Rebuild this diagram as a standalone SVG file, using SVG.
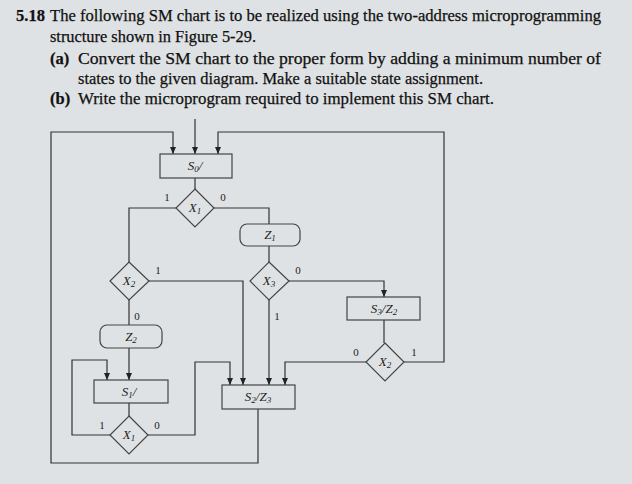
<svg xmlns="http://www.w3.org/2000/svg" width="632" height="484" viewBox="0 0 632 484">
<defs>
<marker id="ah" markerWidth="8" markerHeight="8" refX="7" refY="4" orient="auto" markerUnits="userSpaceOnUse"><path d="M0,1 L7,4 L0,7 Z" fill="#222"/></marker>
<style>
.t{font-family:"Liberation Serif",serif;font-size:16.5px;fill:#111;stroke:#111;stroke-width:0.25}
.b{font-weight:bold}
.box{fill:none;stroke:#444;stroke-width:1.2}
.ln{fill:none;stroke:#333;stroke-width:1.2}
.a{marker-end:url(#ah)}
.n{font-family:"Liberation Serif",serif;font-size:11px;fill:#222;text-anchor:middle}
.v{font-family:"Liberation Serif",serif;font-style:italic;font-size:13px;fill:#222;text-anchor:middle}
</style>
</defs>
<rect width="632" height="484" fill="#dfe2e4"/>
<text class="t b" x="16" y="21">5.18</text>
<text class="t" x="50" y="21" textLength="551" lengthAdjust="spacingAndGlyphs">The following SM chart is to be realized using the two-address microprogramming</text>
<text class="t" x="50" y="42" textLength="206" lengthAdjust="spacingAndGlyphs">structure shown in Figure 5-29.</text>
<text class="t b" x="50" y="64">(a)</text>
<text class="t" x="78" y="64" textLength="523" lengthAdjust="spacingAndGlyphs">Convert the SM chart to the proper form by adding a minimum number of</text>
<text class="t" x="78" y="84" textLength="405" lengthAdjust="spacingAndGlyphs">states to the given diagram. Make a suitable state assignment.</text>
<text class="t b" x="50" y="104">(b)</text>
<text class="t" x="78" y="104" textLength="416" lengthAdjust="spacingAndGlyphs">Write the microprogram required to implement this SM chart.</text>

<g id="connectors">
<path class="ln a" d="M258,409 V463 H51 V132 H173 V154"/>
<path class="ln a" d="M195,119 V154"/>
<path class="ln a" d="M404,362 H444 V132 H218 V154"/>
<path class="ln" d="M195,178 V189"/>
<path class="ln" d="M176,208 H129 V262"/>
<path class="ln" d="M214,208 H269 V224"/>
<path class="ln" d="M269,246 V262"/>
<path class="ln a" d="M149,281 H243 V385"/>
<path class="ln a" d="M289,281 H384 V297"/>
<path class="ln a" d="M269,300 V385"/>
<path class="ln" d="M384,320 V343"/>
<path class="ln a" d="M366,362 H285 V385"/>
<path class="ln" d="M129,300 V325"/>
<path class="ln a" d="M129,348 V380"/>
<path class="ln" d="M129,403 V416"/>
<path class="ln a" d="M110,435 H72 V360 H107 V380"/>
<path class="ln a" d="M148,435 H195 V362 H230 V385"/>
</g>

<g id="S0"><rect class="box" x="160" y="154" width="72" height="24"/><text class="v" x="195" y="170">S<tspan font-size="9" dy="2">0</tspan><tspan dy="-2">/</tspan></text></g>
<g id="X1top"><polygon class="box" points="195,189 214,208 195,227 176,208"/><text class="v" x="195" y="212">X<tspan font-size="9" dy="2">1</tspan></text>
<text class="n" x="167" y="201">1</text><text class="n" x="223" y="201">0</text></g>
<g id="Z1"><rect class="box" x="240" y="224" width="60" height="22" rx="7"/><text class="v" x="270" y="239">Z<tspan font-size="9" dy="2">1</tspan></text></g>
<g id="X2left"><polygon class="box" points="129,262 149,281 129,300 110,281"/><text class="v" x="129" y="285">X<tspan font-size="9" dy="2">2</tspan></text>
<text class="n" x="158" y="274">1</text><text class="n" x="137" y="320">0</text></g>
<g id="X3"><polygon class="box" points="269,262 289,281 269,300 250,281"/><text class="v" x="269" y="285">X<tspan font-size="9" dy="2">3</tspan></text>
<text class="n" x="298" y="274">0</text><text class="n" x="277" y="320">1</text></g>
<g id="S3"><rect class="box" x="347" y="297" width="73" height="23"/><text class="v" x="384" y="313">S<tspan font-size="9" dy="2">3</tspan><tspan dy="-2">/Z</tspan><tspan font-size="9" dy="2">2</tspan></text></g>
<g id="X2right"><polygon class="box" points="385,343 404,362 385,381 366,362"/><text class="v" x="385" y="366">X<tspan font-size="9" dy="2">2</tspan></text>
<text class="n" x="356" y="356">0</text><text class="n" x="414" y="356">1</text></g>
<g id="Z2"><rect class="box" x="100" y="325" width="62" height="23" rx="7"/><text class="v" x="131" y="341">Z<tspan font-size="9" dy="2">2</tspan></text></g>
<g id="S1"><rect class="box" x="94" y="380" width="74" height="23"/><text class="v" x="129" y="396">S<tspan font-size="9" dy="2">1</tspan><tspan dy="-2">/</tspan></text></g>
<g id="X1bottom"><polygon class="box" points="129,416 148,435 129,454 110,435"/><text class="v" x="129" y="439">X<tspan font-size="9" dy="2">1</tspan></text>
<text class="n" x="102" y="429">1</text><text class="n" x="157" y="429">0</text></g>
<g id="S2"><rect class="box" x="222" y="385" width="73" height="24"/><text class="v" x="258" y="401">S<tspan font-size="9" dy="2">2</tspan><tspan dy="-2">/Z</tspan><tspan font-size="9" dy="2">3</tspan></text></g>
</svg>
